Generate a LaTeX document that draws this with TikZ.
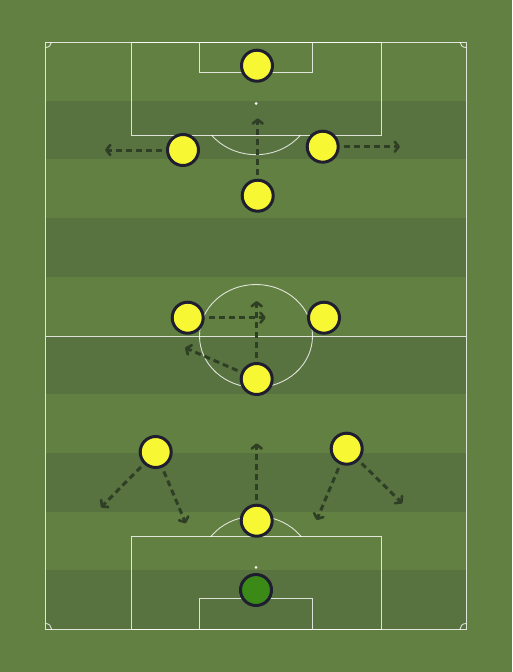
\documentclass[tikz,border=0pt]{standalone}
\usepackage{tikz}
\usetikzlibrary{arrows.meta,shadows}

\definecolor{grass}{HTML}{618041}
\definecolor{stripe}{HTML}{587240}
\definecolor{shirt}{HTML}{F7F734}
\definecolor{keeper}{HTML}{3B8A18}
\definecolor{rim}{HTML}{1E1E30}
\definecolor{runcol}{HTML}{2F3F25}

\tikzset{
  mark line/.style={draw=white, draw opacity=0.8, line width=0.9pt},
  player/.style={circle, draw=rim, line width=3pt, fill=shirt, minimum size=31pt, inner sep=0pt,
    drop shadow={opacity=0.25, shadow xshift=0.4pt, shadow yshift=-1pt}},
  goalie/.style={player, fill=keeper},
  run/.style={draw=runcol, line width=3pt, dash pattern=on 6pt off 4pt,
    -{Straight Barb[length=4pt,width=10pt,line width=2.6pt,round]}, shorten <=4pt}
}

\begin{document}
\begin{tikzpicture}[x=1pt,y=-1pt]
\useasboundingbox (0,0) rectangle (512,672);
\fill [grass] (0,0) rectangle (512,672);
% stripes
\foreach \i in {1,3,5,7,9}
  \fill [stripe] (45.5,42+\i*58.7) rectangle (466,42+\i*58.7+58.7);

% pitch markings
\draw [mark line] (45.5,42) rectangle (466,629);
\draw [mark line] (45.5,336) -- (466,336);
\draw [mark line] (256,336) ellipse [x radius=56.5, y radius=51.5];
\draw [mark line] (131,42) rectangle (381,135.3);
\draw [mark line] (199.7,42) rectangle (312.3,72.7);
\draw [mark line] (131,629) rectangle (381,536.7);
\draw [mark line] (199.7,629) rectangle (312.3,598.3);
\fill [white] (256,103.5) circle (1.5pt);
\fill [white] (256,567.3) circle (1.5pt);
\begin{scope}
  \clip (131,135.3) rectangle (381,200);
  \draw [mark line] (256,103.5) ellipse [x radius=56.5, y radius=51.2];
\end{scope}
\begin{scope}
  \clip (131,470) rectangle (381,536.7);
  \draw [mark line] (256,567.3) ellipse [x radius=56.5, y radius=51.2];
\end{scope}
\begin{scope}
  \clip (45.5,42) rectangle (466,629);
  \foreach \cx/\cy in {45.5/42, 466/42, 45.5/629, 466/629}
    \draw [mark line] (\cx,\cy) ellipse [x radius=6, y radius=5.5];
\end{scope}

% runs (free ends)
\coordinate (t0) at (105,150);
\coordinate (t1) at (400,146.7);
\coordinate (t2) at (257.7,118.3);
\coordinate (t3) at (265.7,317.7);
\coordinate (t4) at (256.7,301);
\coordinate (t5) at (185,347.7);
\coordinate (t6) at (101,507.3);
\coordinate (t7) at (185.7,523.3);
\coordinate (t8) at (256.7,443.3);
\coordinate (t9) at (316.7,520);
\coordinate (t10) at (402.3,503.3);

% players
\node [player] (p0) at (257,65.7) {};
\node [player] (p1) at (183,150) {};
\node [player] (p2) at (322.7,146.7) {};
\node [player] (p3) at (257.7,195.7) {};
\node [player] (p4) at (187.7,317.7) {};
\node [player] (p5) at (324,317.7) {};
\node [player] (p6) at (256.7,379) {};
\node [player] (p7) at (155.7,452) {};
\node [player] (p8) at (346.7,448.7) {};
\node [player] (p9) at (256.7,520.7) {};
\node [goalie] (p10) at (256,590) {};

\draw [run] (p1) edge (t0);
\draw [run] (p2) edge (t1);
\draw [run] (p3) edge (t2);
\draw [run] (p4) edge (t3);
\draw [run] (p6) edge (t4);
\draw [run] (p6) edge (t5);
\draw [run] (p7) edge (t6);
\draw [run] (p7) edge (t7);
\draw [run] (p9) edge (t8);
\draw [run] (p8) edge (t9);
\draw [run] (p8) edge (t10);
\end{tikzpicture}
\end{document}
